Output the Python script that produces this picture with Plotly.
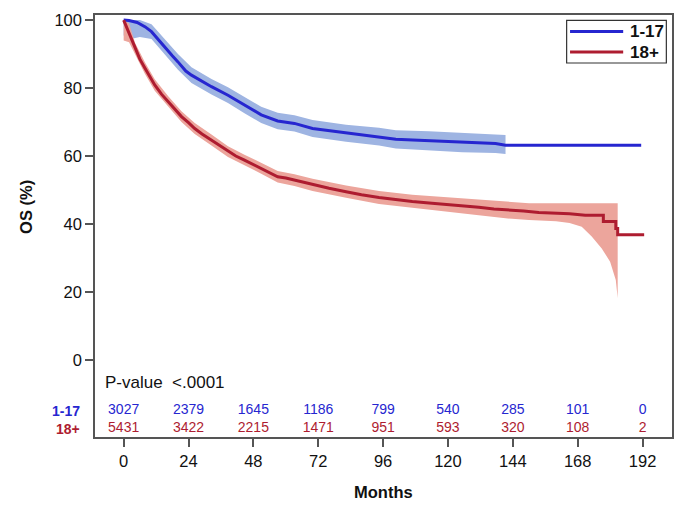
import plotly.graph_objects as go

# Kaplan-Meier OS curves (months, OS %)
blue_months = [0, 2, 5, 8, 10.3, 13, 15.2, 18, 20.1, 23, 25.1, 28.5, 32.5, 38.6, 44.7,
               50.9, 57, 63.2, 69.9, 76, 82.3, 88, 94.5, 100.7, 107, 113, 119, 125.3,
               131, 137.6, 141.3, 191.5]
blue_os = [100, 99.9, 99.3, 98, 96.6, 94, 92.2, 89.5, 87.7, 85, 83.8, 82.2, 80.4, 77.9, 75,
           72.1, 70.3, 69.6, 68.1, 67.5, 66.7, 66.2, 65.7, 64.9, 64.7, 64.5, 64.2, 64,
           63.9, 63.7, 63.2, 63.2]

red_months = [0, 2, 4.2, 6, 7.9, 10, 11.5, 14, 16.5, 19, 21.4, 24, 26.3, 29, 32.5, 35.5,
              38.6, 41.5, 44.7, 48, 50.9, 54, 57, 60, 63.2, 69.9, 76, 82.3, 88, 94.5, 100,
              106.8, 113, 119.1, 125, 131.4, 137, 143.7, 148, 153.6, 160, 165, 170.8,
              177.5, 177.5, 182.1, 182.1, 182.8, 182.8, 192.6]
red_os = [100, 96, 91.7, 88.5, 85.8, 83, 80.9, 78.2, 76, 73.6, 71.6, 69.8, 68.1, 66.5, 64.7,
          63, 61.3, 60, 58.8, 57.5, 56.4, 55.1, 53.9, 53.5, 52.9, 51.5, 50.5, 49.5, 48.6,
          47.8, 47.2, 46.6, 46.2, 45.8, 45.3, 44.9, 44.4, 43.9, 43.8, 43.4, 43.2, 43,
          42.6, 42.6, 40.7, 40.7, 38.7, 38.7, 36.8, 36.8]

# confidence bands
blue_band_months = [0, 3, 6, 10.3, 15.2, 20.1, 25.1, 32.5, 38.6, 44.7, 50.9, 57, 63.2,
                    69.9, 82.3, 94.5, 100.7, 113, 125.3, 137.6, 141.3]
blue_hi = [100, 100, 100, 98.8, 94.5, 90, 86.1, 82.7, 80.2, 77.4, 74.5, 72.7, 72,
           70.6, 69.2, 68.3, 67.6, 67.3, 66.9, 66.5, 66.2]
blue_lo = [95.5, 94.5, 95, 94.4, 89.9, 85.4, 81.5, 78.1, 75.6, 72.6, 69.7, 67.9, 67.2,
           65.6, 64.2, 63.1, 62.2, 61.7, 61.1, 60.9, 60.6]

red_band_months = [0, 2, 4.2, 7.9, 11.5, 16.5, 21.4, 26.3, 32.5, 38.6, 44.7, 50.9, 57,
                   63.2, 69.9, 82.3, 94.5, 106.8, 119.1, 131.4, 143.7, 150, 160, 165,
                   169.5, 173.2, 176.9, 180, 182.1, 182.8]
red_hi = [100, 99, 93.3, 87.5, 82.6, 77.6, 73.2, 69.7, 66.3, 62.9, 60.4, 58, 55.6,
          54.6, 53.3, 51.3, 49.7, 48.6, 47.9, 47.2, 46.4, 46.1, 46.1, 46.1,
          46.1, 46.1, 46.1, 46.1, 46.1, 46.1]
red_lo = [94, 93.5, 90, 84.1, 79.2, 74.4, 70, 66.5, 63.1, 59.7, 57.2, 54.8, 52.2,
          51.2, 49.7, 47.7, 45.9, 44.6, 43.7, 42.6, 41.5, 41.2, 40.8, 40.3,
          39.2, 36.3, 32.8, 28.9, 23.5, 18.1]

# number at risk table
risk_months = [0, 24, 48, 72, 96, 120, 144, 168, 192]
risk_blue = [3027, 2379, 1645, 1186, 799, 540, 285, 101, 0]
risk_red = [5431, 3422, 2215, 1471, 951, 593, 320, 108, 2]

group_names = ["1-17", "18+"]
x_ticks = [0, 24, 48, 72, 96, 120, 144, 168, 192]
y_ticks = [0, 20, 40, 60, 80, 100]

BLUE = "#2626d0"
RED = "#ae1c30"
BLUE_BAND = "#9eb4e2"
RED_BAND = "#eca59c"
FONT = "Liberation Sans, Arial, sans-serif"

fig = go.Figure()

# bands first
for months, hi, lo, col in [(blue_band_months, blue_hi, blue_lo, BLUE_BAND),
                            (red_band_months, red_hi, red_lo, RED_BAND)]:
    fig.add_trace(go.Scatter(
        x=months + months[::-1], y=hi + lo[::-1],
        fill='toself', fillcolor=col, line=dict(width=0),
        mode='lines', showlegend=False, hoverinfo='skip'
    ))

# survival curves
fig.add_trace(go.Scatter(x=blue_months, y=blue_os, mode='lines', name=group_names[0],
                         line=dict(color=BLUE, width=3), showlegend=False))
fig.add_trace(go.Scatter(x=red_months, y=red_os, mode='lines', name=group_names[1],
                         line=dict(color=RED, width=3), showlegend=False))

# at-risk numbers
fig.add_trace(go.Scatter(x=risk_months, y=[-15] * len(risk_months), mode='text',
                         text=[str(v) for v in risk_blue], showlegend=False,
                         textfont=dict(family=FONT, size=14, color=BLUE)))
fig.add_trace(go.Scatter(x=risk_months, y=[-20.2] * len(risk_months), mode='text',
                         text=[str(v) for v in risk_red], showlegend=False,
                         textfont=dict(family=FONT, size=14, color=RED)))

# row labels of the at-risk table
for name, yv, col in [(group_names[0], -15, BLUE), (group_names[1], -20.2, RED)]:
    fig.add_annotation(x=-0.022, xref='paper', y=yv, yref='y', text=f"<b>{name}</b>",
                       xanchor='right', yanchor='middle', showarrow=False,
                       font=dict(family=FONT, size=14, color=col))

fig.add_annotation(x=-7.6, y=-6.8, text="P-value  &lt;.0001", xanchor='left',
                   yanchor='middle', showarrow=False,
                   font=dict(family=FONT, size=17, color='#111'))

# axis titles
fig.add_annotation(x=0.5, xref='paper', y=-0.1296, yref='paper', text="<b>Months</b>",
                   xanchor='center', yanchor='middle', showarrow=False,
                   font=dict(family=FONT, size=16.5, color='#111'))
fig.add_annotation(x=-0.1209, xref='paper', y=0.5457, yref='paper', text="<b>OS (%)</b>",
                   xanchor='center', yanchor='middle', textangle=-90, showarrow=False,
                   font=dict(family=FONT, size=16.5, color='#111'))

# legend box drawn by hand (long line samples as in the original)
fig.add_shape(type='rect', xref='paper', yref='paper', x0=0.8174, x1=0.9902,
              y0=0.8863, y1=0.9872, line=dict(color='#333', width=1.2),
              fillcolor='white', layer='above')
for name, ly, col in [(group_names[0], 0.9611, BLUE), (group_names[1], 0.9123, RED)]:
    fig.add_shape(type='line', xref='paper', yref='paper', x0=0.8233, x1=0.9154,
                  y0=ly, y1=ly, line=dict(color=col, width=3), layer='above')
    fig.add_annotation(x=0.924, xref='paper', y=ly, yref='paper', text=f"<b>{name}</b>",
                       xanchor='left', yanchor='middle', showarrow=False,
                       font=dict(family=FONT, size=17, color='#111'))

# the page body keeps an 8px margin, so the figure is 16px smaller than the window
fig.update_layout(
    width=669, height=497,
    margin=dict(l=87, r=3, t=7, b=68),
    plot_bgcolor='white', paper_bgcolor='white',
    font=dict(family=FONT, size=16.5, color='#111'),
    xaxis=dict(range=[-10.6, 202.9], tickvals=x_ticks, showgrid=False, zeroline=False,
               showline=True, mirror=True, linecolor='#555', linewidth=1.5,
               ticks='outside', ticklen=8, tickwidth=1.5, tickcolor='#555'),
    yaxis=dict(range=[-22.7, 101.5], tickvals=y_ticks, showgrid=False, zeroline=False,
               showline=True, mirror=True, linecolor='#555', linewidth=1.5,
               ticks='outside', ticklen=8, tickwidth=1.5, tickcolor='#555'),
    showlegend=False
)

fig.write_html("out.html")
